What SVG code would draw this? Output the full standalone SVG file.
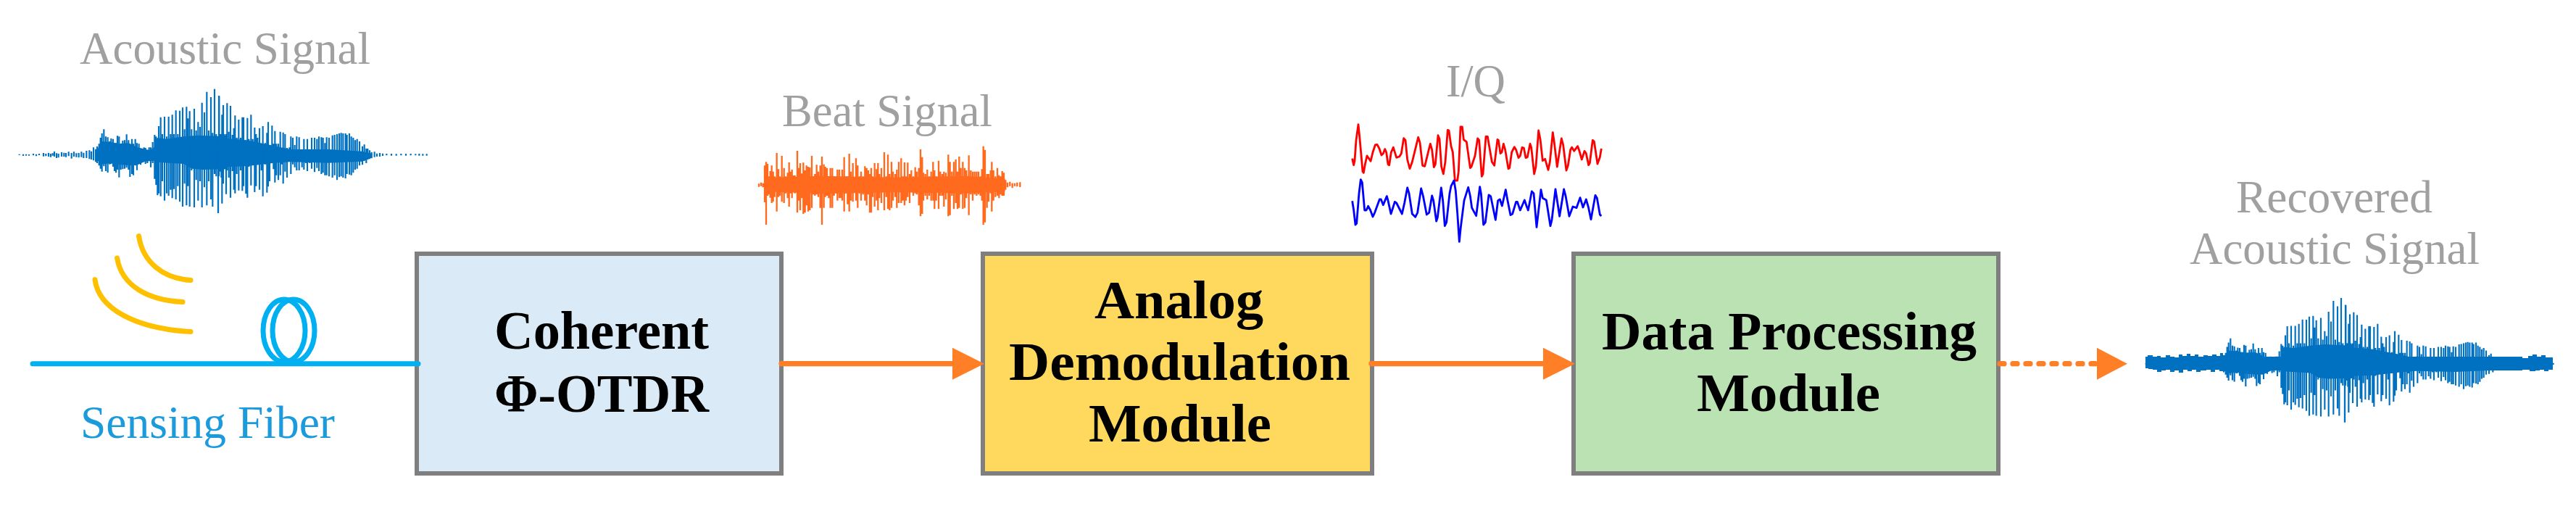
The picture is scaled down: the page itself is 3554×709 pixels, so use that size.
<svg xmlns="http://www.w3.org/2000/svg" width="3554" height="709" viewBox="0 0 3554 709">
<style>
.cap{font-family:"Liberation Serif","DejaVu Serif",serif;font-size:63px;fill:#a0a0a0}
.sf{fill:#1c9bdc}
.lbl{font-family:"Liberation Serif","DejaVu Serif",serif;font-size:74px;font-weight:bold;fill:#000}
.box{stroke:#7f7f7f;stroke-width:6}
.blue{fill:none;stroke:#0070c0;stroke-width:6.5}
.bfill{fill:#0070c0}
.or{fill:none;stroke:#ff6a1e;stroke-width:7}
.wav{fill:none;stroke-width:8.5;stroke-linejoin:round}
.arc{fill:none;stroke:#ffc000;stroke-width:7;stroke-linecap:round}
.fib{fill:none;stroke:#00b0f0;stroke-width:7}
.con{fill:none;stroke:#ff7f27;stroke-width:7.3;stroke-linecap:round}
</style>
<defs>
<marker id="head" markerUnits="userSpaceOnUse" markerWidth="44" markerHeight="44" viewBox="0 0 44 44" refX="0" refY="22" orient="auto"><path d="M0 0L44 22L0 44Z" fill="#ff7f27"/></marker>
<g id="speech">
<g transform="translate(20,110) scale(.33333)">
<path class="bfill" d="M345 285L360 255L400 258L430 265L470 262L510 280L560 292L578 280L590 240L630 245L700 235L760 230L870 235V370L780 372L735 368L700 348L600 342L578 335L540 338L510 352L480 355L440 352L400 345L360 350L345 335Z"/>
<path class="blue" d="M20 308V312M36 308V315M48 308V314M60 309V314M78 306V313M90 308V316M102 306V312M120 303V317M130 306V316M141 303V318M150 306V320M158 304V314M165 297V318M174 304V324M182 306V322M195 300V318M205 302V318M213 303V320M224 298V316M236 303V326M246 298V318M256 304V320M266 303V322M277 298V320M286 302V324M298 294V324M310 292V328M318 296V330M327 280V334M336 287V340M342 276V345M350 265V355M356 240V368M362 222V380M370 205V358M378 235V378M386 238V384M394 255V350M400 243V348M408 245V360M414 270V378M420 262V385M426 232V372M433 235V404M440 265V372M448 252V370M456 250V368M464 226V364M472 250V372M478 265V402M486 245V390M492 265V395M500 245V355M507 262V374M515 265V348M522 290V352M530 288V340M536 280V335M542 282V348M550 295V345M557 280V330M564 280V362M572 258V345M580 228V410M586 235V435M592 290V478M597 192V470M605 155V482M612 225V420M621 153V500M630 235V470M638 153V480M646 225V455M653 145V490M660 225V452M668 127V495M676 225V440M684 128V505M696 115V525M704 205V430M712 112V520M718 160V440M725 130V525M733 205V375M744 120V528M752 210V415M760 175V500M768 195V420M776 95V528M786 135V445M796 50V520M804 210V420M813 72V495M820 220V525M828 38V390M835 225V400M843 262V552M847 68V375M856 225V405M862 145V430M868 225V370"/>
</g>
<g transform="translate(300,110) scale(.33333)">
<path class="bfill" d="M0 240L120 250L230 272L300 288L460 288L600 296L640 306V322L600 338L460 344L300 340L230 345L120 358L0 362Z"/>
<path class="blue" d="M3 275V552M6 66V400M12 225V380M19 145V512M24 105V430M30 230V370M36 225V473M40 97V375M47 215V405M54 108V488M62 228V378M68 200V455M73 148V470M80 240V390M88 165V458M96 240V375M103 155V460M108 155V440M118 255V472M124 158V488M130 245V360M139 145V437M146 245V350M154 198V465M160 225V440M166 240V350M174 200V455M182 268V375M188 192V482M198 262V350M205 220V467M210 175V442M216 270V420M226 190V340M232 265V370M238 212V425M244 265V395M252 265V415M260 215V395M266 300V350M272 218V430M280 225V380M288 282V405M298 280V335M304 235V390M312 240V350M320 270V362M328 235V375M338 238V375M350 290V362M358 245V372M366 300V345M372 245V378M382 290V345M390 240V368M402 240V382M412 245V365M420 235V378M430 238V390M437 240V385M445 262V395M452 238V395M462 240V400M470 300V330M476 230V405M485 228V395M495 225V415M504 222V403M512 220V400M520 222V405M530 222V408M536 228V390M546 222V392M554 235V395M562 240V385M570 250V372M578 245V368M588 255V355M600 275V352M608 268V335M616 285V345M622 285V330M630 292V328M638 300V325M650 298V320M660 305V318M672 303V318M684 305V315M700 306V313M720 306V314M740 307V314M760 306V313M780 306V314M800 306V313M820 307V313M835 306V314M850 307V314M866 307V314"/>
</g>
</g>
</defs>
<rect width="3554" height="709" fill="#fff"/>

<g id="acoustic-signal">
<text class="cap" x="110" y="88" textLength="401" lengthAdjust="spacingAndGlyphs">Acoustic Signal</text>
<use href="#speech"/>
</g>

<g id="sensing-fiber">
<path class="arc" d="M191.5 325.6C197 362 225 384 263 386.6M161.6 356C168 395 205 414 252 416.5M131 385.7C136 425 185 453 263 457.6"/>
<ellipse class="fib" cx="392" cy="456" rx="29" ry="43"/>
<ellipse class="fib" cx="405" cy="456" rx="29" ry="43"/>
<text class="cap sf" x="111" y="604" textLength="351" lengthAdjust="spacingAndGlyphs">Sensing Fiber</text>
</g>

<g id="beat-signal">
<text class="cap" x="1079" y="174" textLength="290" lengthAdjust="spacingAndGlyphs">Beat Signal</text>
<g transform="translate(1000,80) scale(.33333)">
<path d="M165 495L400 488L700 494L1000 488L1160 500V552L1000 560L700 556L400 562L165 552Z" fill="#ff6a1e"/>
<path class="or" d="M141 520V533M150 515V530M158 518V535M165 445V597M171 430V690M177 438V570M183 490V565M188 468V578M194 445V600M200 470V595M206 490V575M215 393V635M222 460V575M228 490V570M236 405V595M245 455V600M252 490V560M260 475V580M266 432V615M272 470V560M278 462V580M284 486V555M290 486V560M300 384V640M306 455V590M312 435V630M318 478V580M325 433V645M332 465V640M338 445V610M345 450V635M352 453V630M360 405V620M367 500V565M373 480V570M380 442V565M387 470V575M395 445V620M402 408V690M410 440V620M416 450V575M423 455V570M430 505V580M437 455V620M445 455V620M452 490V570M458 505V540M466 462V590M474 462V580M480 495V580M486 462V590M494 410V635M500 490V560M508 490V605M515 396V635M522 470V590M530 435V595M537 510V550M543 415V590M550 445V620M558 490V560M564 470V590M572 490V565M580 448V590M587 455V610M594 465V565M600 480V640M606 455V640M612 490V575M620 435V615M628 460V590M634 435V630M640 480V580M648 455V600M660 390V630M668 490V575M675 400V625M682 480V630M690 430V620M696 470V590M705 480V575M712 462V620M720 430V600M730 415V600M737 490V590M744 432V610M750 490V590M757 433V575M765 480V600M772 465V555M780 490V570M788 452V560M795 470V565M803 455V610M810 378V655M817 410V645M822 475V590M830 480V570M838 462V585M846 490V570M854 470V590M862 430V590M868 465V625M875 490V590M885 425V625M892 470V570M900 480V570M907 470V615M915 475V585M925 400V655M932 430V650M940 470V570M948 430V625M956 420V600M963 470V625M970 408V620M977 455V565M985 430V625M993 455V620M1000 465V580M1010 403V650M1018 465V565M1026 470V590M1034 470V565M1042 470V570M1050 470V565M1058 490V570M1064 460V590M1070 365V690M1077 380V680M1085 480V620M1092 480V595M1100 465V560M1105 430V635M1112 465V590M1120 490V575M1128 455V570M1135 485V580M1142 490V565M1148 468V570M1155 475V570M1162 505V545M1170 515V535M1180 512V530M1190 518V538M1200 518V530M1210 515V532M1222 514V534"/>
</g>
</g>

<g id="iq-signal">
<text class="cap" x="1995" y="133" textLength="82" lengthAdjust="spacingAndGlyphs">I/Q</text>
<polyline class="wav" stroke="#ff0000" transform="translate(1800,60) scale(.33333)" points="197,476 203,503 207,485 213,400 222,335 228,395 233,450 240,530 244,535 250,500 258,465 265,475 273,487 282,450 292,420 300,418 309,435 318,462 325,455 332,437 338,450 345,500 350,503 358,450 367,430 380,472 392,468 400,455 410,392 417,400 425,480 435,518 445,490 470,388 477,410 488,505 497,508 510,455 520,415 527,440 535,512 541,500 552,380 558,395 566,510 574,540 582,490 592,358 597,360 606,425 613,450 622,567 632,567 637,530 645,345 652,345 658,398 670,407 685,515 690,510 705,465 716,393 722,400 733,550 738,540 750,385 757,385 775,490 785,505 798,397 802,400 810,455 816,450 823,415 830,440 843,518 848,515 857,450 868,428 875,440 885,473 892,465 900,430 907,432 915,473 922,470 933,415 938,430 950,540 957,510 968,360 975,395 985,485 995,478 1008,523 1015,490 1027,368 1033,410 1045,510 1063,393 1070,420 1083,525 1090,505 1100,440 1106,430 1115,445 1130,425 1137,445 1147,480 1158,445 1165,455 1175,503 1180,495 1192,400 1198,405 1212,498 1222,470 1228,435"/>
<polyline class="wav" stroke="#0000ff" transform="translate(1800,60) scale(.33333)" points="197,652 203,690 210,750 215,745 225,620 232,563 238,575 248,690 255,690 263,673 272,690 282,717 290,700 310,645 316,645 325,668 340,632 345,650 357,705 362,690 373,655 380,660 403,705 413,660 425,597 432,620 445,705 458,718 467,700 482,600 490,630 505,708 515,700 527,630 533,650 545,735 550,720 565,597 572,650 580,755 587,740 600,620 606,590 618,567 625,610 632,700 640,820 646,760 660,650 677,595 685,630 692,680 710,713 725,593 730,620 740,750 748,740 762,627 770,632 790,730 800,650 808,645 817,672 832,605 840,650 852,710 860,705 875,655 880,655 892,690 910,648 918,672 925,690 940,612 948,620 960,760 978,605 985,640 1000,648 1017,755 1023,730 1038,603 1055,715 1073,603 1080,630 1095,715 1110,675 1125,680 1140,638 1152,678 1165,645 1175,680 1185,728 1203,628 1210,640 1222,708 1228,714"/>
</g>

<g id="coherent-otdr">
<rect class="box" x="575" y="350" width="503" height="303" fill="#daebf7"/>
<text class="lbl" x="682" y="481" textLength="296" lengthAdjust="spacingAndGlyphs">Coherent</text>
<text class="lbl" x="682" y="568" textLength="296" lengthAdjust="spacingAndGlyphs">Φ-OTDR</text>
</g>

<g id="analog-demodulation">
<rect class="box" x="1356" y="350" width="537" height="303" fill="#ffd95d"/>
<text class="lbl" x="1510" y="439" textLength="233" lengthAdjust="spacingAndGlyphs">Analog</text>
<text class="lbl" x="1392" y="524" textLength="471" lengthAdjust="spacingAndGlyphs">Demodulation</text>
<text class="lbl" x="1502" y="609" textLength="252" lengthAdjust="spacingAndGlyphs">Module</text>
</g>

<g id="data-processing">
<rect class="box" x="2171" y="350" width="586" height="303" fill="#bbe2b3"/>
<text class="lbl" x="2210" y="482" textLength="517" lengthAdjust="spacingAndGlyphs">Data Processing</text>
<text class="lbl" x="2341" y="567" textLength="253" lengthAdjust="spacingAndGlyphs">Module</text>
</g>

<g id="recovered-signal">
<text class="cap" x="3085" y="293" textLength="271" lengthAdjust="spacingAndGlyphs">Recovered</text>
<text class="cap" x="3021" y="364" textLength="400" lengthAdjust="spacingAndGlyphs">Acoustic Signal</text>
<use href="#speech" transform="translate(2934,288.4)"/>
<path class="bfill" d="M2960 499V492H2963V490H2970V492H2976V491H2981V493H2988V490H2994V492H3000V493H3006V489H3011V491H3017V488H3022V491H3028V489H3033V492H3040V490H3046V491H3052V489H3058V491H3063V487H3067V490H3075V489H3080V491H3090V490H3098V492H3480V494H3488V491H3494V489H3500V492H3506V490H3512V493H3522V510H3516V512H3510V510H3504V511H3498V512H3490V510H3480V511H3098V513H3092V510H3085V513H3078V511H3070V512H3062V510H3056V513H3050V510H3044V511H3036V513H3030V510H3024V512H3018V510H3012V514H3006V511H3000V513H2994V510H2988V511H2982V513H2976V510H2970V509H2964V508H2960Z"/>
</g>

<g id="connectors">
<path class="fib" style="stroke-linecap:round" d="M45 501.7H577"/>
<path class="con" d="M1078 501.7H1314" marker-end="url(#head)"/>
<path class="con" d="M1892 501.7H2129" marker-end="url(#head)"/>
<path class="con" stroke-dasharray="6 12" d="M2759 501.7H2893"/>
<path d="M2893 479.7L2935 501.7L2893 523.7Z" fill="#ff7f27"/>
</g>
</svg>
